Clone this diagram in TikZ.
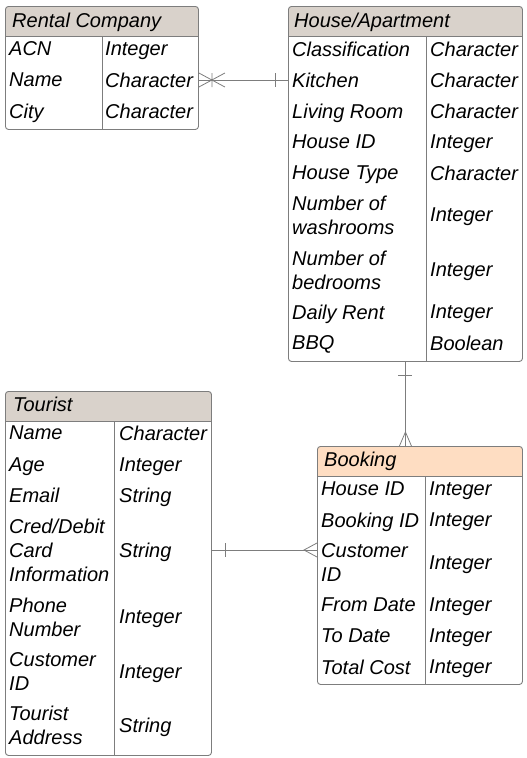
\documentclass[tikz,border=0pt]{standalone}
\usepackage{fontspec}
\setmainfont{Liberation Sans}
\usepackage{xcolor}
\usepackage{tikz}
\definecolor{linegray}{RGB}{125,125,125}
\definecolor{headgray}{RGB}{217,210,203}
\definecolor{headpeach}{RGB}{254,221,194}

\begin{document}
\begin{tikzpicture}[x=1pt,y=-1pt,
   entity/.style={draw=linegray,line width=0.9pt,rounded corners=3pt,anchor=north west,inner sep=0pt,
      path picture={\fill[#1,sharp corners] (path picture bounding box.north west) rectangle ([yshift=-30pt]path picture bounding box.north east);
        \draw[linegray,line width=0.9pt,sharp corners] ([yshift=-30pt]path picture bounding box.north west) -- ([yshift=-30pt]path picture bounding box.north east);}},
   title/.style={anchor=west,inner sep=0pt,text depth=0pt,font=\fontsize{20}{24}\selectfont\itshape},
   attr/.style={anchor=west,inner sep=0pt,align=left,text depth=0pt,font=\fontsize{20}{24}\selectfont\itshape},
   rule/.style={draw=linegray,line width=0.9pt},
   rel/.style={draw=linegray,line width=0.8pt}]
   \useasboundingbox (0,0) rectangle (527,758);

   % Rental Company
   \node[entity=headgray,minimum width=193pt,minimum height=123pt] (rental) at (5,6) {};
   \node[title] (rental-title) at (12,20) {Rental Company};
   \draw[rule] (102,36) -- (102,129);
   \foreach \y/\n/\t [count=\i] in {49/ACN/Integer, 80/Name/Character, 111/City/Character}{
      \node[attr] (rc-n\i) at (9,\y) {\n};
      \node[attr] (rc-t\i) at (105,\y) {\t};
   }

   % House/Apartment
   \node[entity=headgray,minimum width=234pt,minimum height=355pt] (house) at (288,6) {};
   \node[title] (house-title) at (294,20) {House/Apartment};
   \draw[rule] (426,36) -- (426,361);
   \foreach \y/\n/\t [count=\i] in {49/Classification/Character, 80/Kitchen/Character,
      111/Living Room/Character, 142/House ID/Integer, 173/House Type/Character,
      215/{Number of\\washrooms}/Integer, 270/{Number of\\bedrooms}/Integer,
      312/Daily Rent/Integer, 343/BBQ/Boolean}{
      \node[attr] (hs-n\i) at (292,\y) {\n};
      \node[attr] (hs-t\i) at (430,\y) {\t};
   }

   % Tourist
   \node[entity=headgray,minimum width=206pt,minimum height=364pt] (tourist) at (5,391) {};
   \node[title] (tourist-title) at (13,404) {Tourist};
   \draw[rule] (114,422) -- (114,755);
   \foreach \y/\n/\t [count=\i] in {433/Name/Character, 465/Age/Integer, 495/Email/String,
      550/{Cred/Debit\\Card\\Information}/String, 617/{Phone\\Number}/Integer,
      672/{Customer\\ID}/Integer, 725/{Tourist\\Address}/String}{
      \node[attr] (tr-n\i) at (9,\y) {\n};
      \node[attr] (tr-t\i) at (119,\y) {\t};
   }

   % Booking
   \node[entity=headpeach,minimum width=205pt,minimum height=238pt] (booking) at (317,446) {};
   \node[title] (booking-title) at (324,459) {Booking};
   \draw[rule] (425,476) -- (425,684);
   \foreach \y/\n/\t [count=\i] in {489/House ID/Integer, 520/Booking ID/Integer,
      563/{Customer\\ID}/Integer, 605/From Date/Integer, 636/To Date/Integer,
      667/Total Cost/Integer}{
      \node[attr] (bk-n\i) at (321,\y) {\n};
      \node[attr] (bk-t\i) at (429,\y) {\t};
   }

   % relationships
   \draw[rel] (rental.east |- rc-t2.west) coordinate (rc-end) -- (house.west |- hs-n2.west) coordinate (hs-end);
   \draw[rel] (rc-end) ++(0,-7) -- ++(26,14) (rc-end) ++(0,7) -- ++(26,-14) (rc-end) ++(13,-7) -- ++(0,14);
   \draw[rel] (hs-end) ++(-13,-7) -- ++(0,14);

   \draw[rel] (house.south) coordinate (hs-bot) -- (booking.north -| house.south) coordinate (bk-top);
   \draw[rel] (hs-bot) ++(-7,13) -- ++(14,0);
   \draw[rel] (bk-top) ++(-6,0) -- ++(6,-14) -- ++(6,14);

   \draw[rel] (tourist.east |- tr-t4.west) coordinate (tr-end) -- (booking.west |- tr-t4.west) coordinate (bk-end);
   \draw[rel] (tr-end) ++(13,-7) -- ++(0,14);
   \draw[rel] (bk-end) ++(0,-7) -- ++(-13,7) -- ++(13,7);
\end{tikzpicture}
\end{document}
